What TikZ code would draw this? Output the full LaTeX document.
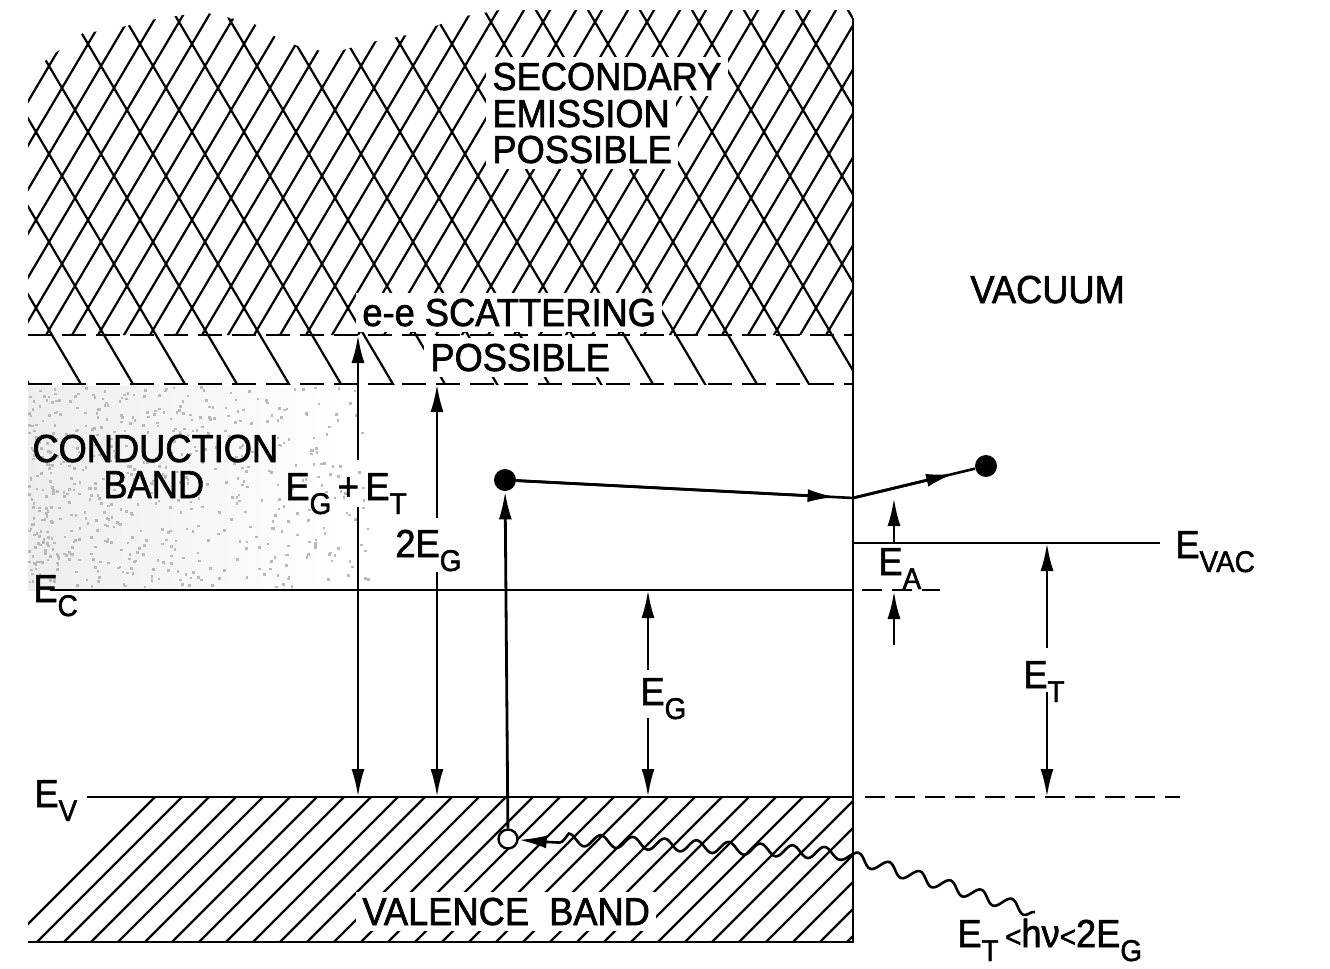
\documentclass[tikz,border=0pt]{standalone}
\usepackage{fontspec}
\setmainfont[FakeStretch=0.93,FakeBold=1.6]{Liberation Sans}
\usetikzlibrary{arrows.meta,decorations.pathmorphing,calc}
\newcommand\lsub[1]{\raisebox{-7pt}{\fontsize{15}{16}\selectfont #1}}
\begin{document}
\begin{tikzpicture}[x=0.5pt,y=-0.5pt,
  lab/.style={font=\fontsize{19.5}{22}\selectfont, inner sep=0pt, text=black},
  clearlab/.style={lab, fill=white, inner sep=3pt},
  hatchline/.style={line width=1.1pt},
  level/.style={line width=1.4pt},
  dashlevel/.style={line width=1.4pt, dash pattern=on 12pt off 5pt},
  dashext/.style={line width=1.4pt, dash pattern=on 10pt off 5pt},
  tip/.style={-{Latex[length=14pt,width=6.5pt]}},
  dimarr/.style={line width=1.4pt, tip},
  dot/.style={circle, fill=black, inner sep=0pt, minimum size=11pt},
  holec/.style={circle, draw=black, fill=white, line width=1.2pt, inner sep=0pt, minimum size=9.5pt},
  photon/.style={line width=1.3pt, decorate, decoration={snake, segment length=16pt, amplitude=3pt}}]
\useasboundingbox (0,0) rectangle (1330,969);
\fill[white] (0,0) rectangle (1330,969);

% ---- conduction band stipple
\shade[left color=gray!14, right color=white] (28,386) rectangle (340,590);
\pgfmathsetseed{7}
\foreach \k in {1,...,600}{
  \pgfmathsetmacro\xx{28+340*rnd^1.5}
  \pgfmathsetmacro\yy{386+200*rnd}
  \fill[gray!55] (\xx,\yy) rectangle ++(2.6,2.6);
}

% ---- cross hatch (secondary emission region)
\begin{scope}
  \clip (28,75) -- (50,57) -- (83,33) -- (110,30) -- (150,20) -- (203,12) -- (253,23) -- (267,33) -- (300,47) -- (333,53) -- (367,43) -- (417,33) -- (460,17) -- (500,10) -- (853,10) -- (853,335) -- (28,335) -- cycle;
  \foreach \i in {-6,...,17} \draw[hatchline] (\i*52+10,0) -- ++(236.4,400);
  \foreach \i in {0,...,45} \draw[hatchline] (\i*26+10,0) -- ++(-236.4,400);
\end{scope}
% ---- single hatch (e-e scattering region)
\begin{scope}
  \clip (28,335) rectangle (853,384);
  \foreach \i in {-6,...,17} \draw[hatchline] (\i*52+10,0) -- ++(236.4,400);
\end{scope}
% ---- valence band hatch
\begin{scope}
  \clip (28,797) rectangle (853,942);
  \foreach \i in {0,...,38} \draw[hatchline] (\i*27+10,942) -- ++(160,-160);
\end{scope}

% ---- labels that clear the hatching
\node[clearlab, anchor=base west] (sec) at (486,90) {SECONDARY};
\node[clearlab, anchor=base west] (emi) at (486,127) {EMISSION};
\node[clearlab, anchor=base west] (pos1) at (486,163) {POSSIBLE};
\node[clearlab, anchor=base west] (scat) at (356,326) {e-e SCATTERING};
\node[clearlab, anchor=base west] (pos2) at (424,371) {POSSIBLE};
\node[clearlab, anchor=base west] (val) at (356,925) {VALENCE\ \ BAND};
\node[clearlab, anchor=base west] (ev) at (28,807) {E\lsub{V}};

% ---- levels and boundaries
\coordinate (stop) at (853,18);
\coordinate (sbot) at (853,942);
\coordinate (vbl) at (28,942);
\draw[level] (stop) -- (sbot) -- (vbl);
\coordinate (ecL) at (50,590);  \coordinate (ecR) at (853,590); \coordinate (ecX) at (940,590);
\coordinate (evL) at (87,797);  \coordinate (evR) at (853,797); \coordinate (evX) at (1180,797);
\coordinate (vacL) at (853,543); \coordinate (vacR) at (1160,543);
\coordinate (d1L) at (28,335); \coordinate (d1R) at (853,335);
\coordinate (d2L) at (28,384); \coordinate (d2R) at (853,384);
\draw[level] (ecL) -- (ecR);
\draw[dashext] (ecR) ++(9,0) -- (ecX);
\draw[level] (evL) -- (evR);
\draw[dashext] (evR) ++(12,0) -- (evX);
\draw[level] (vacL) -- (vacR);
\draw[dashlevel] (d1L) -- (d1R);
\draw[dashlevel] (d2L) -- (d2R);

% ---- other labels
\node[lab, anchor=base west] (vac) at (970,303) {VACUUM};
\node[lab, anchor=base west] (cond) at (32,462) {CONDUCTION};
\node[lab, anchor=base west] (band) at (103,498) {BAND};
\node[lab, anchor=base west] (eget) at (285,500) {E\lsub{G}\,+\,E\lsub{T}};
\node[lab, anchor=base west] (tweg) at (395,557) {2E\lsub{G}};
\node[lab, anchor=base west] (ec) at (33,602) {E\lsub{C}};
\node[lab, anchor=base west] (eg) at (640,705) {E\lsub{G}};
\node[lab, anchor=base west] (ea) at (878,575) {E\lsub{A}};
\node[lab, anchor=base west] (evac) at (1175,558) {E\lsub{VAC}};
\node[lab, anchor=base west] (et) at (1023,688) {E\lsub{T}};
\node[lab, anchor=base west] (hnu) at (957,947) {E\lsub{T}\,{\fontsize{15}{16}\selectfont<}hν{\fontsize{15}{16}\selectfont<}2E\lsub{G}};

% ---- dimension arrows
\coordinate (a1t) at (358,335); \coordinate (a1m) at (358,460);
\coordinate (a1n) at (358,507); \coordinate (a1b) at (358,797);
\draw[dimarr] (a1m) -- (a1t);
\draw[dimarr] (a1n) -- (a1b);
\coordinate (a2t) at (437,384); \coordinate (a2m) at (437,518);
\coordinate (a2n) at (437,572); \coordinate (a2b) at (437,797);
\draw[dimarr] (a2m) -- (a2t);
\draw[dimarr] (a2n) -- (a2b);
\coordinate (a3t) at (648,590); \coordinate (a3m) at (648,670);
\coordinate (a3n) at (648,718); \coordinate (a3b) at (648,797);
\draw[dimarr] (a3m) -- (a3t);
\draw[dimarr] (a3n) -- (a3b);
\coordinate (a4t) at (1047,543); \coordinate (a4m) at (1047,648);
\coordinate (a4n) at (1047,692); \coordinate (a4b) at (1047,797);
\draw[dimarr] (a4m) -- (a4t);
\draw[dimarr] (a4n) -- (a4b);
\coordinate (a5t) at (894,498); \coordinate (a5m) at (894,543);
\coordinate (a5n) at (894,645); \coordinate (a5b) at (894,591);
\draw[dimarr] (a5m) -- (a5t);
\draw[dimarr] (a5n) -- (a5b);

% ---- electron, hole, photon
\node[dot] (e1) at (505,480) {};
\node[dot] (e2) at (986,466) {};
\node[holec] (h) at (508,839) {};
\coordinate (s1) at (853,498);
\draw[line width=1.3pt] (e1) -- (s1);
\draw[dimarr] (e1) -- ($(e1)!0.95!(s1)$);
\draw[line width=1.3pt] (s1) -- (e2);
\draw[dimarr] (s1) -- ($(s1)!0.76!(e2)$);
\draw[dimarr] (h) -- (e1);
\coordinate (ph0) at (1035,912);
\coordinate (ph1) at (855,858);
\coordinate (ph2) at (548,842);
\draw[photon] (ph0) -- (ph1) -- (ph2);
\draw[dimarr] (ph2) -- (h);
\end{tikzpicture}
\end{document}
